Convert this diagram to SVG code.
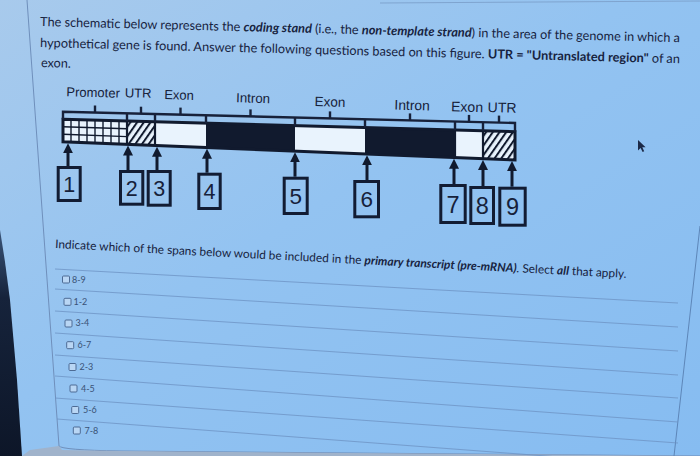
<svg xmlns="http://www.w3.org/2000/svg" width="700" height="456" viewBox="0 0 700 456">
<defs>
<linearGradient id="bg" x1="0" y1="0" x2="1" y2="1">
<stop offset="0" stop-color="#a8caec"/>
<stop offset="0.45" stop-color="#93c3f1"/>
<stop offset="1" stop-color="#86bcf1"/>
</linearGradient>
<linearGradient id="dark" x1="0" y1="0" x2="0" y2="1">
<stop offset="0" stop-color="#3a5478"/>
<stop offset="0.3" stop-color="#16233b"/>
<stop offset="1" stop-color="#0d1628"/>
</linearGradient>
<pattern id="hatch" width="5.5" height="5.5" patternUnits="userSpaceOnUse" patternTransform="rotate(35)">
<rect width="5.5" height="5.5" fill="#e9f3fd"/>
<line x1="1" y1="0" x2="1" y2="5.5" stroke="#111a2e" stroke-width="2"/>
</pattern>
<marker id="arr" markerUnits="userSpaceOnUse" markerWidth="10" markerHeight="10" viewBox="0 0 9 9" refX="2" refY="4.5" orient="auto">
<path d="M0,0 L9,4.5 L0,9 Z" fill="#111a2e"/>
</marker>
<style>
.hd{font-family:Lato,"Liberation Sans",sans-serif;font-size:12.6px;fill:#17233f}
.q{font-size:11.8px}
.bi{font-weight:bold;font-style:italic}
.b{font-weight:bold}
.lbl{font-family:"Liberation Sans",Arial,sans-serif;fill:#16213a;text-anchor:middle}
.num{font-family:"Liberation Sans",Arial,sans-serif;fill:#16213a;text-anchor:middle}
.box{fill:none;stroke:#121c33;stroke-width:3}
.seg-w{fill:#e9f3fd}
.seg-b{fill:#111a2e}
.seg-h{fill:url(#hatch)}
.edge{fill:none;stroke:#111a2e;stroke-width:3;stroke-linejoin:miter}
.bnd{stroke:#111a2e;stroke-width:2.2}
.grid{stroke:#111a2e;stroke-width:1.4}
.brk{fill:none;stroke:#17213a;stroke-width:2.4}
.tick{stroke:#17213a;stroke-width:2.4}
.conn{stroke:#111a2e;stroke-width:3;marker-end:url(#arr)}
.sep{stroke:#6f95c6;stroke-width:1;opacity:0.8}
.cb{fill:#b9d6f4;stroke:#4d6b94;stroke-width:1}
.opt{font-family:Lato,"Liberation Sans",sans-serif;font-size:9px;fill:#3a5276}
</style>
</defs>

<rect width="700" height="456" fill="url(#bg)"/>
<polygon points="0,230 5,262 10,300 17,380 22,456 0,456" fill="url(#dark)"/>
<line x1="27" y1="0" x2="59" y2="446" stroke="#6f8fbb" stroke-width="1"/>
<path d="M59,446 Q62,450 120,451 L700,456" fill="none" stroke="#6f8fbb" stroke-width="1"/>
<polygon points="22,456 30,450 59,446 62,450 120,451 700,456" fill="#a0b3cb"/>
<line x1="700" y1="226" x2="674" y2="456" stroke="#5d86b8" stroke-width="1"/>
<line x1="380" y1="3" x2="700" y2="1" stroke="#7fa4cf" stroke-width="1"/>

<g id="header">
<text class="hd" x="40" y="26" transform="rotate(1.45 40 26)" textLength="640" lengthAdjust="spacingAndGlyphs">The schematic below represents the <tspan class="bi">coding stand</tspan> (i.e., the <tspan class="bi">non-template strand</tspan>) in the area of the genome in which a</text>
<text class="hd" x="40" y="47" transform="rotate(1.45 40 47)" textLength="640" lengthAdjust="spacingAndGlyphs">hypothetical gene is found. Answer the following questions based on this figure. <tspan class="b">UTR = "Untranslated region"</tspan> of an</text>
<text class="hd" x="41" y="67" transform="rotate(1.45 41 67)">exon.</text>
</g>

<g id="gene-bar">
<polygon class="seg-w" points="63,119.3 127,121.05 127,144.3 63,141.7"/>
<g class="grid">
<line x1="71" y1="119.5" x2="71" y2="142"/>
<line x1="79" y1="119.7" x2="79" y2="142.4"/>
<line x1="87" y1="120" x2="87" y2="142.7"/>
<line x1="95" y1="120.2" x2="95" y2="143"/>
<line x1="103" y1="120.4" x2="103" y2="143.3"/>
<line x1="111" y1="120.6" x2="111" y2="143.6"/>
<line x1="119" y1="120.8" x2="119" y2="144"/>
<line x1="63" y1="126.8" x2="127" y2="128.8"/>
<line x1="63" y1="134.2" x2="127" y2="136.6"/>
</g>
<polygon class="seg-h" points="127,121.05 155,121.8 155,145.4 127,144.3"/>
<polygon class="seg-w" points="155,121.8 206,123.2 206,147.5 155,145.4"/>
<polygon class="seg-b" points="206,123.2 295,125.7 295,151.1 206,147.5"/>
<polygon class="seg-w" points="295,125.7 365,127.6 365,153.9 295,151.1"/>
<polygon class="seg-b" points="365,127.6 455,130 455,157.6 365,153.9"/>
<polygon class="seg-w" points="455,130 483,130.8 483,158.7 455,157.6"/>
<polygon class="seg-h" points="483,130.8 515,131.7 515,160 483,158.7"/>
<line class="bnd" x1="127" y1="121" x2="127" y2="144.3"/>
<line class="bnd" x1="155" y1="121.8" x2="155" y2="145.4"/>
<line class="bnd" x1="455" y1="130" x2="455" y2="157.6"/>
<line class="bnd" x1="483" y1="130.8" x2="483" y2="158.7"/>
<polygon class="edge" points="63,119.3 515,131.7 515,160 63,141.7"/>
</g>

<g id="bracket">
<polyline class="brk" points="63,119.3 63,111.7 515,123 515,131.7"/>
<g class="tick">
<line x1="127" y1="113.3" x2="127" y2="121"/>
<line x1="155" y1="114" x2="155" y2="121.8"/>
<line x1="206" y1="115.3" x2="206" y2="123.2"/>
<line x1="295" y1="117.5" x2="295" y2="125.7"/>
<line x1="365" y1="119.2" x2="365" y2="127.6"/>
<line x1="455" y1="121.5" x2="455" y2="130"/>
<line x1="483" y1="122.2" x2="483" y2="130.8"/>
<line x1="95" y1="112.5" x2="95" y2="105.5"/>
<line x1="141" y1="113.7" x2="141" y2="106.7"/>
<line x1="180.5" y1="114.6" x2="180.5" y2="107.6"/>
<line x1="250.5" y1="116.4" x2="250.5" y2="109.4"/>
<line x1="330" y1="118.4" x2="330" y2="111.4"/>
<line x1="410" y1="120.4" x2="410" y2="113.4"/>
<line x1="469" y1="121.9" x2="469" y2="114.9"/>
<line x1="499" y1="122.6" x2="499" y2="115.6"/>
</g>
</g>

<g id="region-labels">
<text class="lbl" x="93" y="97" font-size="13" transform="rotate(1.5 93 97)">Promoter</text>
<text class="lbl" x="138" y="97.5" font-size="13" transform="rotate(1.5 138 97.5)">UTR</text>
<text class="lbl" x="179" y="99.5" font-size="13" transform="rotate(1.5 179 99.5)">Exon</text>
<text class="lbl" x="253" y="102.7" font-size="13.3" transform="rotate(1.5 253 102.7)">Intron</text>
<text class="lbl" x="330" y="106.5" font-size="13.5" transform="rotate(1.5 330 106.5)">Exon</text>
<text class="lbl" x="412" y="110" font-size="13.8" transform="rotate(1.5 412 110)">Intron</text>
<text class="lbl" x="467" y="111.7" font-size="14" transform="rotate(1.5 467 111.7)">Exon</text>
<text class="lbl" x="502" y="112.3" font-size="14" transform="rotate(1.5 502 112.3)">UTR</text>
</g>

<g id="connectors">
<line class="conn" x1="68" y1="166" x2="68" y2="151"/>
<line class="conn" x1="128" y1="170" x2="128" y2="153.3"/>
<line class="conn" x1="157" y1="170" x2="157" y2="154.5"/>
<line class="conn" x1="207" y1="172.7" x2="207" y2="156.5"/>
<line class="conn" x1="295" y1="176.7" x2="295" y2="160.1"/>
<line class="conn" x1="367" y1="180" x2="367" y2="163"/>
<line class="conn" x1="454" y1="184" x2="454" y2="166.5"/>
<line class="conn" x1="483" y1="186" x2="483" y2="167.7"/>
<line class="conn" x1="512" y1="186.7" x2="512" y2="168.9"/>
</g>

<g id="n1"><rect class="box" x="58.2" y="167.5" width="22" height="33"/><text class="num" x="69.2" y="191.8" font-size="21.5">1</text></g>
<g id="n2"><rect class="box" x="120.5" y="171.5" width="22.3" height="32.7"/><text class="num" x="131.7" y="195.7" font-size="21.5">2</text></g>
<g id="n3"><rect class="box" x="148.2" y="171.5" width="22" height="33.7"/><text class="num" x="159.2" y="196.1" font-size="21.5">3</text></g>
<g id="n4"><rect class="box" x="198.8" y="174.2" width="21.4" height="34.3"/><text class="num" x="209.5" y="199.2" font-size="21.5">4</text></g>
<g id="n5"><rect class="box" x="284.2" y="178.2" width="23" height="35.3"/><text class="num" x="295.7" y="203.9" font-size="22.5">5</text></g>
<g id="n6"><rect class="box" x="354.8" y="181.5" width="23.7" height="35.3"/><text class="num" x="366.7" y="207.3" font-size="22.5">6</text></g>
<g id="n7"><rect class="box" x="440.8" y="185.5" width="24.4" height="37"/><text class="num" x="453" y="212.5" font-size="23.5">7</text></g>
<g id="n8"><rect class="box" x="470.8" y="187.5" width="22.7" height="36"/><text class="num" x="482.2" y="214" font-size="23.5">8</text></g>
<g id="n9"><rect class="box" x="499.8" y="188.2" width="25.4" height="37"/><text class="num" x="512.5" y="215.2" font-size="23.5">9</text></g>

<path id="cursor" d="M638,140 L638,150.5 L640.6,148 L642.6,152 L644.2,151.2 L642.3,147.3 L645.6,147.2 Z" fill="#1c2a48"/>

<g id="question">
<text class="hd q" x="55" y="248" transform="rotate(3 55 248)" textLength="572" lengthAdjust="spacingAndGlyphs">Indicate which of the spans below would be included in the <tspan class="bi">primary transcript (pre-mRNA)</tspan>. Select <tspan class="bi">all</tspan> that apply.</text>
</g>

<g id="separators">
<line class="sep" x1="55" y1="269" x2="678" y2="303"/>
<line class="sep" x1="55" y1="289" x2="678" y2="327"/>
<line class="sep" x1="55" y1="311" x2="678" y2="351"/>
<line class="sep" x1="55" y1="333" x2="678" y2="375"/>
<line class="sep" x1="55" y1="355" x2="678" y2="398"/>
<line class="sep" x1="55" y1="376" x2="678" y2="422"/>
<line class="sep" x1="55" y1="398" x2="678" y2="443"/>
<line class="sep" x1="57" y1="419" x2="678" y2="466"/>
</g>

<g id="options">
<g id="o89"><rect class="cb" x="62.5" y="276" width="7" height="7" rx="1"/><text class="opt" x="72" y="282.5">8-9</text></g>
<g id="o12"><rect class="cb" x="64" y="298.3" width="7" height="7" rx="1"/><text class="opt" x="73.5" y="304.6">1-2</text></g>
<g id="o34"><rect class="cb" x="65" y="320" width="7" height="7" rx="1"/><text class="opt" x="75.5" y="326.3">3-4</text></g>
<g id="o67"><rect class="cb" x="66.7" y="341.7" width="7" height="7" rx="1"/><text class="opt" x="77.5" y="348">6-7</text></g>
<g id="o23"><rect class="cb" x="69" y="363.5" width="7" height="7" rx="1"/><text class="opt" x="79.5" y="370">2-3</text></g>
<g id="o45"><rect class="cb" x="70" y="385" width="7" height="7" rx="1"/><text class="opt" x="81" y="391.5">4-5</text></g>
<g id="o56"><rect class="cb" x="71.7" y="406.5" width="7" height="7" rx="1"/><text class="opt" x="83" y="413">5-6</text></g>
<g id="o78"><rect class="cb" x="73.3" y="427" width="7" height="7" rx="1"/><text class="opt" x="84.5" y="433.5">7-8</text></g>
</g>
</svg>
